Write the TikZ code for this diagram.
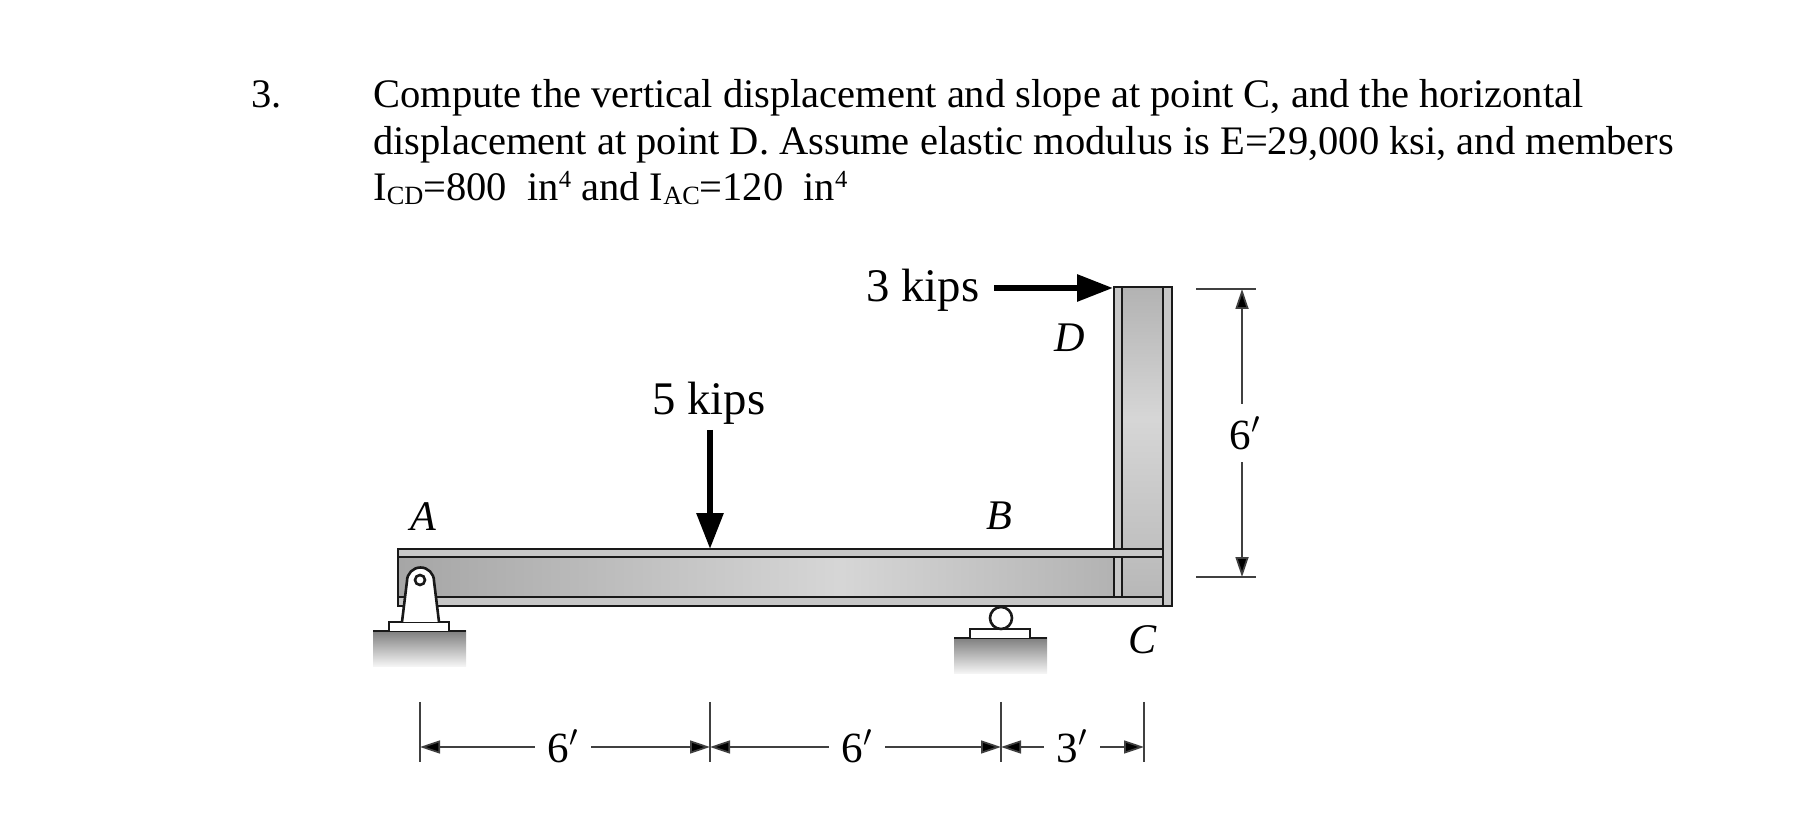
\documentclass[tikz,border=0pt]{standalone}
\usepackage{fontspec}
\setmainfont{Liberation Serif}
\usetikzlibrary{arrows.meta}

\newcommand{\lowsub}[1]{\raisebox{-2pt}{\fontsize{15}{15}\selectfont #1}}
\newcommand{\highsup}[1]{\raisebox{7.5pt}{\fontsize{14}{14}\selectfont #1}}

\tikzset{
    headline/.style={anchor=base west, inner sep=0pt, font=\fontsize{23.05}{26}\selectfont},
    loadlabel/.style={inner sep=0pt, font=\fontsize{26.6}{30}\selectfont},
    pointlabel/.style={inner sep=0pt, font=\fontsize{24}{27}\selectfont\itshape},
    dimlabel/.style={inner sep=0.25cm, font=\fontsize{24.5}{27}\selectfont},
    dimline/.style={draw=black!75, line width=0.035cm, -{Triangle[length=0.4cm,width=0.26cm,fill=black]}},
    ticklen/.style={draw=black!75, line width=0.035cm},
    forcearrow/.style={line width=0.12cm, -{Triangle[length=0.72cm,width=0.52cm]}},
    beamline/.style={line width=0.052cm, black!90},
    groundbase/.style={top color=black!50, bottom color=black!3, draw=none},
}

\begin{document}
\begin{tikzpicture}[x=0.02cm,y=-0.02cm]
        \useasboundingbox (0,0) rectangle (1812,830);

        \node[headline] (num) at (251,108) {3.};
        \node[headline] (lineone) at (373,108) {Compute the vertical displacement and slope at point C, and the horizontal};
        \node[headline] (linetwo) at (373,155) {displacement at point D. Assume elastic modulus is E=29,000 ksi, and members};
        \node[headline] (linethree) at (373,201) {I\lowsub{CD}=800\ \ in\highsup{4} and I\lowsub{AC}=120\ \ in\highsup{4}};

        \shade[left color=black!35, right color=black!16] (398,557) rectangle (840,597);
        \shade[left color=black!16, right color=black!30] (840,557) rectangle (1114,597);
        \shade[top color=black!30, bottom color=black!16] (1122,287) rectangle (1163,418);
        \shade[top color=black!16, bottom color=black!28] (1122,418) rectangle (1163,597);
        \fill[black!22] (398,549) rectangle (1163,557);
        \fill[black!22] (398,597) rectangle (1163,606);
        \fill[black!22] (1114,287) rectangle (1122,549);
        \fill[black!22] (1114,557) rectangle (1122,597);
        \fill[black!22] (1163,287) rectangle (1172,606);

        \draw[beamline] (398,549) -- (1114,549) -- (1114,287) -- (1172,287) -- (1172,606) -- (398,606) -- cycle;
        \draw[beamline] (398,557) -- (1163,557);
        \draw[beamline] (398,597) -- (1163,597);
        \draw[beamline] (1114,549) -- (1163,549);
        \draw[beamline] (1122,287) -- (1122,549);
        \draw[beamline] (1114,557) -- (1114,597);
        \draw[beamline] (1122,557) -- (1122,597);
        \draw[beamline] (1163,287) -- (1163,606);

        \shade[groundbase] (373,631) rectangle (466,667);
        \draw[beamline] (373,631) -- (466,631);
        \draw[beamline, fill=white] (389,631) -- (389,622) -- (449,622) -- (449,631);
        \draw[beamline, fill=white] (402,622) -- (407,581) arc[start angle=180, end angle=0, radius=0.27cm] -- (439,622);
        \draw[beamline, fill=white] (420,580) circle[radius=0.1cm];

        \shade[groundbase] (954,638) rectangle (1047,674);
        \draw[beamline] (954,638) -- (1047,638);
        \draw[beamline, fill=white] (970,638) -- (970,629) -- (1030,629) -- (1030,638);
        \draw[beamline, fill=white] (1001,618) circle[radius=0.22cm];

        \node[loadlabel] (fivekips) at (709,403) {5 kips};
        \node[loadlabel] (threekips) at (923,290) {3 kips};
        \coordinate (fivetop) at (710,430);
        \coordinate (fivetip) at (710,549);
        \coordinate (threetail) at (994,288);
        \coordinate (threetip) at (1113,288);
        \draw[forcearrow] (fivetop) -- (fivetip);
        \draw[forcearrow] (threetail) -- (threetip);

        \node[pointlabel] (ptA) at (423,517) {A};
        \node[pointlabel] (ptB) at (999,516) {B};
        \node[pointlabel] (ptC) at (1143,640) {C};
        \node[pointlabel] (ptD) at (1070,338) {D};

        \foreach \tx/\tn in {420/ta,710/tb,1001/tc,1144/td}{
            \coordinate (\tn) at (\tx,747);
            \draw[ticklen] (\tx,702) -- (\tx,762);
        }
        \foreach \ty/\tn in {289/te,577/tf}{
            \coordinate (\tn) at (1242,\ty);
            \draw[ticklen] (1196,\ty) -- (1256,\ty);
        }

        \node[dimlabel] (dimab) at (563,746) {6$'$};
        \node[dimlabel] (dimbc) at (857,746) {6$'$};
        \node[dimlabel] (dimcd) at (1072,746) {3$'$};
        \node[dimlabel] (dimde) at (1245,433) {6$'$};

        \draw[dimline] (dimab.west |- ta) -- (ta);
        \draw[dimline] (dimab.east |- ta) -- (tb);
        \draw[dimline] (dimbc.west |- ta) -- (tb);
        \draw[dimline] (dimbc.east |- ta) -- (tc);
        \draw[dimline] (dimcd.west |- ta) -- (tc);
        \draw[dimline] (dimcd.east |- ta) -- (td);
        \draw[dimline] (te |- dimde.north) -- (te);
        \draw[dimline] (te |- dimde.south) -- (tf);
    \end{tikzpicture}
\end{document}
